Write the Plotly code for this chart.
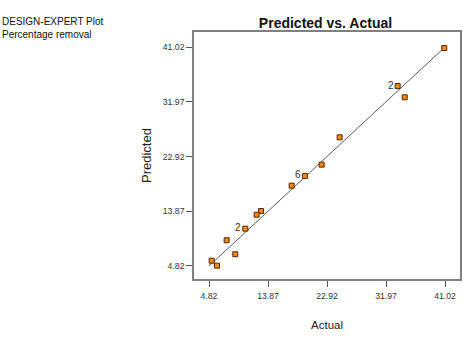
import plotly.graph_objects as go

# Data
actual = [40.91, 33.76, 34.84, 24.86, 22.10, 19.54, 17.50, 12.80, 12.13, 10.39, 7.53, 8.85, 5.23, 6.05]
predicted = [40.85, 34.57, 32.71, 26.09, 21.57, 19.70, 18.10, 13.91, 13.30, 10.99, 9.07, 6.76, 5.70, 4.87]

# Replicate counts shown next to points
label_x = [33.76, 19.54, 10.39]
label_y = [34.57, 19.70, 10.99]
label_text = ["2", "6", "2"]

line_x = [4.82, 41.02]
line_y = [4.82, 41.02]

tick_vals = [4.82, 13.87, 22.92, 31.97, 41.02]
tick_text = ["4.82", "13.87", "22.92", "31.97", "41.02"]

FONT = "Liberation Sans"

fig = go.Figure()
fig.add_trace(go.Scatter(x=line_x, y=line_y, mode="lines",
                         line=dict(color="#5a5a5a", width=1), hoverinfo="skip"))
fig.add_trace(go.Scatter(x=actual, y=predicted, mode="markers",
                         marker=dict(symbol="square", size=5, color="#EE8A12",
                                     line=dict(color="#5a2800", width=1))))

for x, y, t in zip(label_x, label_y, label_text):
    fig.add_annotation(x=x, y=y, text=t, showarrow=False, xanchor="right",
                       xshift=-2, yshift=1, font=dict(family=FONT, size=10, color="#333"))

fig.add_annotation(text="DESIGN-EXPERT Plot<br>Percentage removal", xref="paper", yref="paper",
                   x=-194/266, y=1 + (32 - 14) / 247, xanchor="left", yanchor="top", align="left",
                   showarrow=False, font=dict(family=FONT, size=10, color="#111"))

axis_common = dict(
    showline=True, linecolor="#808080", linewidth=1.5, mirror=True,
    showgrid=False, zeroline=False, automargin=False,
    ticks="outside", ticklen=6, tickcolor="#555", tickwidth=1,
    tickvals=tick_vals, ticktext=tick_text,
    tickfont=dict(family=FONT, size=8.7, color="#333"),
)

fig.update_layout(
    width=474, height=337,
    margin=dict(l=194, r=14, t=32, b=58),
    paper_bgcolor="white", plot_bgcolor="white",
    showlegend=False,
    title=dict(text="<b>Predicted vs. Actual</b>", x=(194 + 131.5) / 474, xanchor="center",
               y=1 - 23 / 337, yanchor="middle",
               font=dict(family=FONT, size=14, color="#111")),
    xaxis=dict(range=[2.52, 43.32], ticklabelstandoff=2,
               title=dict(text="Actual", standoff=21,
                          font=dict(family=FONT, size=11.5, color="#222")),
               **axis_common),
    yaxis=dict(range=[2.67, 43.5],
               title=dict(text="Predicted", standoff=8,
                          font=dict(family=FONT, size=13, color="#222")),
               **axis_common),
)

fig.write_html("out.html")
